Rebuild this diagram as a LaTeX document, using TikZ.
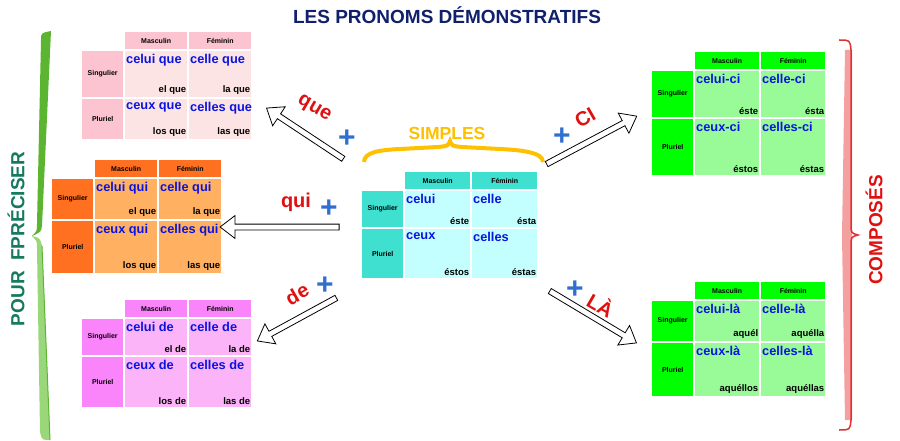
\documentclass[tikz,border=0pt]{standalone}
\usepackage{fontspec}
\setmainfont{Liberation Sans}
\usetikzlibrary{shapes.arrows}
\definecolor{pkH}{HTML}{FCC4D0}\definecolor{pkC}{HTML}{FDE4E4}
\definecolor{orH}{HTML}{FF7020}\definecolor{orC}{HTML}{FFB060}
\definecolor{mgH}{HTML}{FA84FA}\definecolor{mgC}{HTML}{FBB4F8}
\definecolor{tlH}{HTML}{40E0D0}\definecolor{tlC}{HTML}{C4FFFF}
\definecolor{grH}{HTML}{00FF00}\definecolor{grC}{HTML}{98FB98}
\definecolor{navy}{HTML}{10206A}\definecolor{wordblue}{HTML}{0A14E0}
\definecolor{plusblue}{HTML}{2F6FD0}\definecolor{lblred}{HTML}{E01010}
\definecolor{gold}{HTML}{FFC000}\definecolor{tealtxt}{HTML}{157A5E}
\definecolor{gdark}{HTML}{5CB531}\definecolor{glight}{HTML}{9AD67A}
\definecolor{rbr}{HTML}{E03030}\definecolor{rfill}{HTML}{F4A0A0}
\tikzset{
 box/.style={draw=none,inner sep=0pt,anchor=north west,font=\fontsize{7}{8}\selectfont\bfseries},
 blueword/.style={inner xsep=1pt,inner ysep=3pt,text=wordblue,font=\fontsize{12.8}{15}\selectfont\bfseries},
 spword/.style={inner xsep=1pt,inner ysep=3pt,font=\fontsize{9.5}{10}\selectfont\bfseries},
 arr/.style={single arrow,draw=black,fill=white,line width=0.8pt,inner xsep=0pt,inner ysep=2.5pt,single arrow head extend=8.5pt,single arrow tip angle=75},
 rlab/.style={text=lblred,font=\fontsize{20}{22}\selectfont\bfseries},
 plus/.style={text=plusblue,font=\fontsize{30}{30}\selectfont\bfseries,inner sep=0pt},
}
\newcommand\tbl[8]{%
 \gdef\tx{#2}\gdef\ty{#3}\gdef\tw{#4}\gdef\ta{#5}\gdef\tb{#6}\gdef\tcol{#8}%
 \node[box,fill=#7,minimum width=#4pt,minimum height=17pt] (#1-m) at (#2+43,#3) {Masculin};
 \node[box,fill=#7,minimum width=#4pt,minimum height=17pt] (#1-f) at (#2+45+#4,#3) {Féminin};
 \node[box,fill=#7,minimum width=41pt,minimum height=#5pt] (#1-s) at (#2,#3+19) {Singulier};
 \node[box,fill=#7,minimum width=41pt,minimum height=#6pt] (#1-p) at (#2,#3+21+#5) {Pluriel};
}
\newcommand\cel[5]{%
 \pgfmathsetmacro\cx{\tx+43+(#2-1)*(\tw+2)}%
 \pgfmathsetmacro\cy{\ty+19+(#3-1)*(\ta+2)}%
 \pgfmathsetmacro\ch{#3==1 ? \ta : \tb}%
 \node[box,fill=\tcol,minimum width=\tw pt,minimum height=\ch pt] (#1) at (\cx,\cy) {};
 \node[blueword,anchor=north west] (#1-b) at (#1.north west) {#4};
 \node[spword,anchor=south east] (#1-e) at (#1.south east) {#5};
}
\begin{document}
\begin{tikzpicture}[x=1pt,y=-1pt]
\useasboundingbox (0,0) rectangle (900,441);
\node[text=navy,font=\fontsize{19}{20}\selectfont\bfseries] (title) at (447,15) {LES PRONOMS DÉMONSTRATIFS};
% left green brace
\fill[gdark] (41,40) .. controls (41,33) .. (51,31) -- (42,226) .. controls (41,232) .. (32,236) .. controls (37,231) .. (37,224) -- cycle;
\fill[glight] (32,236) .. controls (40,238) .. (42,246) -- (50,440) .. controls (42,440) .. (40,432) -- (37,248) .. controls (37,241) .. (32,236) -- cycle;
\draw[gdark,line width=1pt] (42,246) -- (50,440);
\node[rotate=90,text=tealtxt,font=\fontsize{19}{20}\selectfont\bfseries] (pour) at (16,239) {POUR\ \ FPRÉCISER};
% right red brace
\fill[rfill] (845,50) -- (852,50) -- (852,420) -- (845,420) -- (842,236) -- cycle;
\draw[rbr,line width=1.5pt] (839,40) .. controls (850,40) .. (851,50) -- (851,225) .. controls (851,233) .. (858,235) .. controls (851,237) .. (851,245) -- (851,420) .. controls (850,430) .. (839,430);
\node[rotate=90,text=lblred,font=\fontsize{19}{20}\selectfont\bfseries] (comp) at (874,230) {COMPOSÉS};
% simples
\node[text=gold,font=\fontsize{17.5}{18}\selectfont\bfseries] (simples) at (447,133) {SIMPLES};
\draw[gold,line width=4pt] (364,162) .. controls (364,152) and (380,150) .. (400,149) -- (438,147) .. controls (448,146) .. (450,141) .. controls (452,146) .. (462,147) -- (500,149) .. controls (520,150) and (543,152) .. (543,162);
% tables
\tbl{pk}{82}{32}{62}{46}{40}{pkH}{pkC}
\cel{pk11}{1}{1}{celui que}{el que}\cel{pk21}{2}{1}{celle que}{la que}
\cel{pk12}{1}{2}{ceux que}{los que}\cel{pk22}{2}{2}{celles que}{las que}
\tbl{or}{52}{160}{62}{40}{52}{orH}{orC}
\cel{or11}{1}{1}{celui qui}{el que}\cel{or21}{2}{1}{celle qui}{la que}
\cel{or12}{1}{2}{ceux qui}{los que}\cel{or22}{2}{2}{celles qui}{las que}
\tbl{mg}{82}{300}{62}{36}{50}{mgH}{mgC}
\cel{mg11}{1}{1}{celui de}{el de}\cel{mg21}{2}{1}{celle de}{la de}
\cel{mg12}{1}{2}{ceux de}{los de}\cel{mg22}{2}{2}{celles de}{las de}
\tbl{tl}{362}{172}{65}{36}{49}{tlH}{tlC}
\cel{tl11}{1}{1}{celui}{éste}\cel{tl21}{2}{1}{celle}{ésta}
\cel{tl12}{1}{2}{ceux}{éstos}\cel{tl22}{2}{2}{celles}{éstas}
\tbl{ga}{652}{52}{64}{46}{56}{grH}{grC}
\cel{ga11}{1}{1}{celui-ci}{éste}\cel{ga21}{2}{1}{celle-ci}{ésta}
\cel{ga12}{1}{2}{ceux-ci}{éstos}\cel{ga22}{2}{2}{celles-ci}{éstas}
\tbl{gb}{652}{282}{64}{40}{53}{grH}{grC}
\cel{gb11}{1}{1}{celui-là}{aquél}\cel{gb21}{2}{1}{celle-là}{aquélla}
\cel{gb12}{1}{2}{ceux-là}{aquéllos}\cel{gb22}{2}{2}{celles-là}{aquéllas}
% arrows
\node[arr,minimum height=92pt,rotate=146.5] (aque) at (306.5,134.5) {};
\node[arr,minimum height=119pt,rotate=180] (aqui) at (281.5,227) {};
\node[arr,minimum height=90pt,rotate=208.6] (ade) at (298.5,318.5) {};
\node[arr,minimum height=102pt,rotate=28] (aci) at (590,141) {};
\node[arr,minimum height=101pt,rotate=-30.9] (ala) at (591.5,316) {};
% labels
\node[rlab,rotate=-30] (lque) at (314,109) {que};
\node[plus] (pque) at (347,139) {+};
\node[rlab] (lqui) at (296,202) {qui};
\node[plus] (pqui) at (329,209) {+};
\node[rlab,rotate=30] (lde) at (297,294) {de};
\node[plus] (pde) at (325,286) {+};
\node[plus] (pci) at (562,137) {+};
\node[rlab,rotate=30] (lci) at (585,118) {CI};
\node[plus] (pla) at (575,290) {+};
\node[rlab,rotate=-30] (lla) at (601,304) {LÀ};
\end{tikzpicture}
\end{document}
